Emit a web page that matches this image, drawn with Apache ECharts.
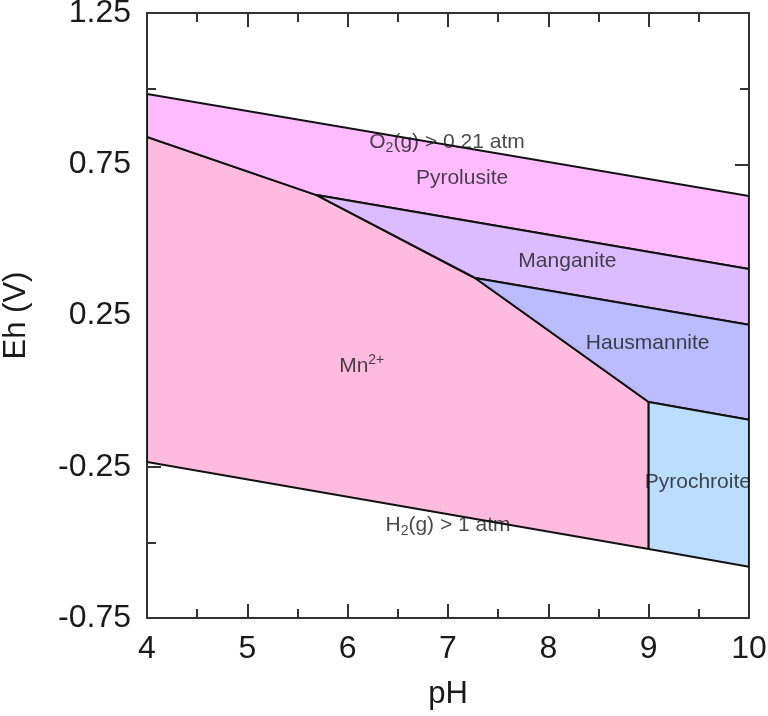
<!DOCTYPE html>
<html><head><meta charset="utf-8">
<script src="https://cdn.jsdelivr.net/npm/echarts@6/dist/echarts.min.js"></script>
<style>html,body{margin:0;padding:0;background:#fff}#c{width:768px;height:716px}</style>
</head><body><div id="c"></div>
<script>
// Region polygons: [pH, Eh (V)] vertices
const mn2Region = [[4,0.840],[5.69,0.648],[7.27,0.374],[9.0,-0.036],[9.0,-0.522],[4,-0.234]];
const pyrolusiteRegion = [[4,0.982],[10,0.645],[10,0.404],[5.69,0.648],[4,0.840]];
const manganiteRegion = [[5.69,0.648],[10,0.404],[10,0.219],[7.27,0.374]];
const hausmanniteRegion = [[7.27,0.374],[10,0.219],[10,-0.095],[9.0,-0.036]];
const pyrochroiteRegion = [[9.0,-0.036],[10,-0.095],[10,-0.581],[9.0,-0.522]];

const regionNames = ['Mn2+','Pyrolusite','Manganite','Hausmannite','Pyrochroite'];
const regionColors = ['#ffbbdd','#ffbbff','#ddbbff','#bbbbff','#bbddff'];

// Text labels
const labelTexts = ['{t|O}{sub|2}{t|(g) > 0.21 atm}','{t|Pyrolusite}','{t|Manganite}','{t|Hausmannite}','{t|Mn}{sup|2+}','{t|Pyrochroite}','{t|H}{sub|2}{t|(g) > 1 atm}'];
const labelPH = [6.99, 7.14, 8.19, 8.99, 6.14, 9.49, 7.0];
const labelEh = [0.824, 0.705, 0.430, 0.159, 0.083, -0.30, -0.443];

const FONT = '"Liberation Sans", Arial, Helvetica, sans-serif';
const INK = '#1a1a1a';

function polySeries(name, pts, color) {
  return {
    type: 'custom', name: name, data: pts, encode: {x: 0, y: 1}, clip: true, z: 2,
    renderItem: function (params, api) {
      if (params.dataIndex !== 0) return null;
      const points = pts.map(function (p) { return api.coord(p); });
      return {type: 'polygon', shape: {points: points},
        style: {fill: color, stroke: '#111', lineWidth: 2, lineJoin: 'round'}};
    }
  };
}

const regions = [mn2Region, pyrolusiteRegion, manganiteRegion, hausmanniteRegion, pyrochroiteRegion];
const series = regions.map(function (r, i) { return polySeries(regionNames[i], r, regionColors[i]); });

series.push({
  type: 'scatter', z: 5, symbolSize: 0, silent: true,
  data: labelPH.map(function (p, i) { return [p, labelEh[i]]; }),
  label: {
    show: true, position: 'inside',
    formatter: function (p) { return labelTexts[p.dataIndex]; },
    rich: {
      t: {fontSize: 21, color: INK, fontFamily: FONT, lineHeight: 26},
      sub: {fontSize: 14, color: INK, fontFamily: FONT, lineHeight: 14, verticalAlign: 'bottom'},
      sup: {fontSize: 14, color: INK, fontFamily: FONT, lineHeight: 14, verticalAlign: 'top'}
    }
  }
});

const lineStyle = {color: '#333', width: 2};
const tickCommon = {show: true, inside: true, length: 14, lineStyle: lineStyle};
const minorCommon = {show: true, splitNumber: 2, length: 9, lineStyle: lineStyle};
const axisLineCommon = {show: true, onZero: false, lineStyle: lineStyle};

const option = {
  animation: false,
  backgroundColor: '#fff',
  grid: {left: 147, right: 19, top: 13, bottom: 98, containLabel: false, outerBoundsMode: 'none'},
  xAxis: [
    {type: 'value', min: 4, max: 10, interval: 1, position: 'bottom',
     axisLine: axisLineCommon, axisTick: tickCommon, minorTick: minorCommon,
     splitLine: {show: false}, minorSplitLine: {show: false},
     axisLabel: {fontSize: 32, color: INK, fontFamily: FONT, margin: 15},
     name: 'pH', nameLocation: 'middle', nameGap: 61,
     nameTextStyle: {fontSize: 31, color: INK, fontFamily: FONT}},
    {type: 'value', min: 4, max: 10, interval: 1, position: 'top',
     axisLine: axisLineCommon, axisTick: tickCommon, minorTick: minorCommon,
     splitLine: {show: false}, axisLabel: {show: false}}
  ],
  yAxis: [
    {type: 'value', min: -0.75, max: 1.25, interval: 0.5, position: 'left',
     axisLine: axisLineCommon, axisTick: tickCommon, minorTick: minorCommon,
     splitLine: {show: false}, minorSplitLine: {show: false},
     axisLabel: {fontSize: 32, color: INK, fontFamily: FONT, margin: 16},
     name: 'Eh (V)', nameLocation: 'middle', nameGap: 115, nameRotate: 90,
     nameTextStyle: {fontSize: 31, color: INK, fontFamily: FONT}},
    {type: 'value', min: -0.75, max: 1.25, interval: 0.5, position: 'right',
     axisLine: axisLineCommon, axisTick: tickCommon, minorTick: minorCommon,
     splitLine: {show: false}, axisLabel: {show: false}}
  ],
  series: series
};

const chart = echarts.init(document.getElementById('c'), null, {renderer: 'canvas'});
chart.setOption(option);
</script>
</body></html>
